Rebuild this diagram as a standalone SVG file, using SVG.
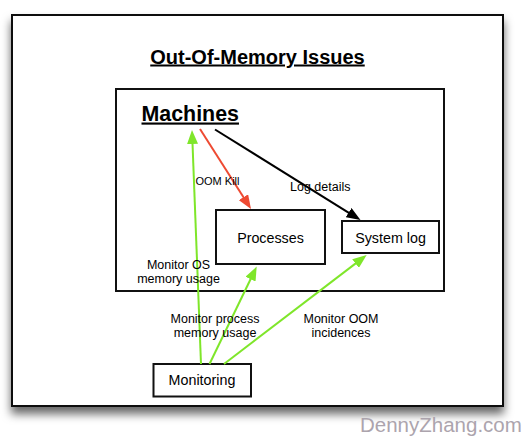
<svg xmlns="http://www.w3.org/2000/svg" width="530" height="444" viewBox="0 0 530 444">
<defs>
<filter id="shadow" x="-10%" y="-10%" width="120%" height="125%">
<feDropShadow dx="0" dy="7" stdDeviation="5" flood-color="#000" flood-opacity="0.6"/>
</filter>
<marker id="ahGreen" markerUnits="userSpaceOnUse" markerWidth="14" markerHeight="11" refX="6" refY="5.5" orient="auto"><path d="M0,0 L14,5.5 L0,11 z" fill="#7fe62a"/></marker>
<marker id="ahRed" markerUnits="userSpaceOnUse" markerWidth="14" markerHeight="11" refX="6" refY="5.5" orient="auto"><path d="M0,0 L14,5.5 L0,11 z" fill="#ee4a32"/></marker>
<marker id="ahBlack" markerUnits="userSpaceOnUse" markerWidth="14" markerHeight="11" refX="6" refY="5.5" orient="auto"><path d="M0,0 L14,5.5 L0,11 z" fill="#000"/></marker>
</defs>
<style>
.box{fill:#fff;stroke:#111;stroke-width:2}
.frame{fill:#fff;stroke:#111;stroke-width:2}
.t{font-family:"Liberation Sans",Arial,sans-serif;fill:#000}
.node{font-size:14.3px;text-anchor:middle}
.lbl{font-size:12.5px;text-anchor:middle}
.g{stroke:#7fe62a;stroke-width:2;fill:none;marker-end:url(#ahGreen)}
.r{stroke:#ee4a32;stroke-width:2;fill:none;marker-end:url(#ahRed)}
.k{stroke:#000;stroke-width:2;fill:none;marker-end:url(#ahBlack)}
</style>
<rect width="530" height="444" fill="#fff"/>
<rect class="frame" x="12" y="15" width="491" height="391" filter="url(#shadow)"/>
<text class="t" x="257.5" y="63.5" font-size="20px" font-weight="bold" text-anchor="middle" text-decoration="underline">Out-Of-Memory Issues</text>
<g id="machines">
<rect class="box" x="116" y="89" width="328" height="202"/>
<text class="t" x="141.5" y="120.5" font-size="21.4px" font-weight="bold" text-decoration="underline">Machines</text>
</g>
<g id="processes">
<rect class="box" x="216" y="210" width="109" height="54"/>
<text class="t node" x="270.5" y="243">Processes</text>
</g>
<g id="systemlog">
<rect class="box" x="342" y="221" width="97" height="32"/>
<text class="t node" x="390.5" y="242.5">System log</text>
</g>
<g id="monitoring">
<rect class="box" x="153.5" y="364" width="97.5" height="32.5"/>
<text class="t node" x="202" y="385">Monitoring</text>
</g>
<g id="connectors">
<line class="r" x1="200" y1="129" x2="246.7" y2="202.3"/>
<line class="k" x1="215" y1="129.5" x2="353.7" y2="215.8"/>
<line class="g" x1="201" y1="364" x2="192.3" y2="138"/>
<line class="g" x1="209.5" y1="364" x2="253.2" y2="273.7"/>
<line class="g" x1="224" y1="364" x2="360.3" y2="259.9"/>
<text class="t" x="195.5" y="185.3" font-size="11px">OOM Kill</text>
<text class="t" x="290" y="191" font-size="12.5px">Log details</text>
<text class="t lbl" x="178.5" y="268.7">Monitor OS</text>
<text class="t lbl" x="178.5" y="282.7">memory usage</text>
<text class="t lbl" x="215" y="322.7">Monitor process</text>
<text class="t lbl" x="215" y="336.7">memory usage</text>
<text class="t lbl" x="341" y="323">Monitor OOM</text>
<text class="t lbl" x="341" y="336.7">incidences</text>
</g>
<text x="360" y="431.5" font-family="'Liberation Sans',Arial,sans-serif" font-size="20.5px" fill="#aca4ad">DennyZhang.com</text>
</svg>
